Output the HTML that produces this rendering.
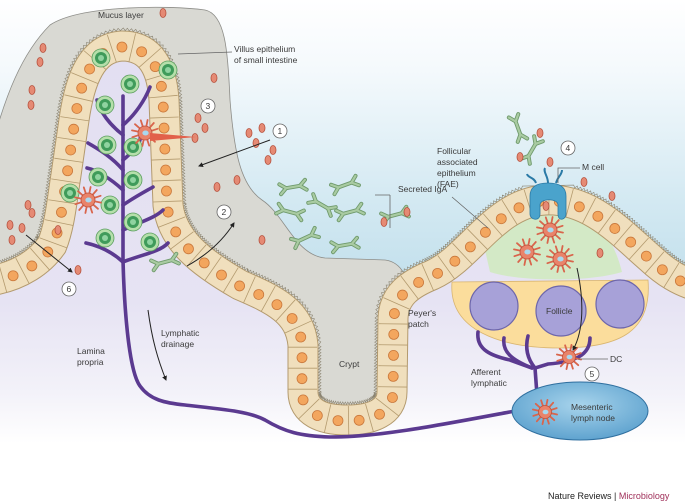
<!DOCTYPE html>
<html><head><meta charset="utf-8"><style>
html,body{margin:0;padding:0;background:#fff;width:685px;height:504px;overflow:hidden}
svg{display:block}
text{font-family:"Liberation Sans",sans-serif;font-size:8.5px;fill:#3a3a3a}
</style></head><body>
<svg id="s" width="685" height="504" viewBox="0 0 685 504" xmlns="http://www.w3.org/2000/svg">
<defs>
<linearGradient id="blue" x1="0" y1="0" x2="0" y2="1">
<stop offset="0" stop-color="#ffffff"/><stop offset="0.14" stop-color="#f4f9fc"/><stop offset="0.4" stop-color="#d3e9f2"/><stop offset="0.62" stop-color="#bcdcea"/><stop offset="1" stop-color="#bcdcea"/></linearGradient>
<linearGradient id="lam" x1="0" y1="0" x2="0" y2="504" gradientUnits="userSpaceOnUse">
<stop offset="0" stop-color="#e2def1"/><stop offset="0.6" stop-color="#e6e3f3"/><stop offset="0.78" stop-color="#f3f2f9"/><stop offset="0.88" stop-color="#ffffff"/></linearGradient>
<radialGradient id="node" cx="0.5" cy="0.4" r="0.6"><stop offset="0" stop-color="#a8d4ec"/><stop offset="1" stop-color="#5fa3cf"/></radialGradient>
<marker id="ah" viewBox="0 0 10 10" refX="8" refY="5" markerWidth="5" markerHeight="5" orient="auto"><path d="M0,0 L10,5 L0,10 z" fill="#222"/></marker>
<g id="iga" fill="none" stroke-linecap="round">
<g stroke="#6f9a6c" stroke-width="4"><path d="M-7,0 H7 M7,0 L13,-5 M7,0 L13,5 M-7,0 L-13,-5 M-7,0 L-13,5"/></g>
<g stroke="#a9cba2" stroke-width="2.2"><path d="M-7,0 H7 M7,0 L13,-5 M7,0 L13,5 M-7,0 L-13,-5 M-7,0 L-13,5"/></g>
</g>
</defs>
<rect width="685" height="504" fill="url(#blue)"/>
<!-- grey mucus -->
<path d="M-5,135 C5,100 20,55 50,25 C80,5 170,5 205,10 C225,14 228,50 230,100 C234,150 240,185 262,200 C285,215 295,255 325,258 L385,260 C402,262 410,280 410,300 L410,460 L-5,460 Z" fill="#d9d9d3" stroke="#8d8d88" stroke-width="0.8"/>
<!-- lamina -->
<path id="lamp" fill="url(#lam)" d=""/>
<!-- Peyer's patch -->
<path d="M452,282 C448,330 500,348 560,348 C622,348 652,330 648,280 Z" fill="#fbdd9c" stroke="#d9b570" stroke-width="0.8"/>
<path d="M485,250 C500,215 540,205 560,208 C590,210 612,232 622,272 C590,282 520,282 490,272 Z" fill="#d3e9c6"/>
<circle cx="494" cy="306" r="24" fill="#a7a1d8" stroke="#6d66ab" stroke-width="1.2"/>
<circle cx="561" cy="311" r="25" fill="#a7a1d8" stroke="#6d66ab" stroke-width="1.2"/>
<circle cx="620" cy="304" r="24" fill="#a7a1d8" stroke="#6d66ab" stroke-width="1.2"/>
<text x="546" y="314">Follicle</text>
<g id="epi"></g>
<!-- M cell -->
<path d="M530,196 C530,186 538,183 548,183 C558,183 566,186 566,196 L566,214 C566,220 558,222 558,214 L558,205 C558,198 540,198 540,205 L540,214 C540,222 530,220 530,214 Z" fill="#4aa3cc" stroke="#2a7aa6" stroke-width="0.8"/>
<path d="M536,183 C534,177 528,178 527,174 M548,183 C548,176 543,172 545,168 M556,183 C558,176 562,175 562,170" stroke="#2a7aa6" stroke-width="2" fill="none"/>
<!-- lymphatics -->
<g fill="none" stroke="#5b3a90" stroke-width="3.6" stroke-linecap="round">
<path d="M123,96 L123,260 C124,300 128,370 140,386 C150,400 165,403 185,405 C230,410 250,412 265,420 C285,432 300,436 330,437 C380,437 440,425 515,411"/>
<path d="M123,135 C110,125 100,112 97,100"/>
<path d="M123,125 C135,115 145,100 150,87"/>
<path d="M123,170 C110,155 96,148 88,143"/>
<path d="M123,190 C110,178 96,170 87,168"/>
<path d="M123,205 C138,195 148,190 153,187"/>
<path d="M123,230 C140,222 155,218 163,210"/>
<path d="M123,262 C110,250 95,245 86,243"/>
<path d="M123,262 C140,255 160,252 168,243"/>
<path d="M123,160 C135,150 142,142 140,135"/>
<path d="M478,332 C476,350 492,356 510,360 L532,368"/>
<path d="M504,338 C502,352 512,360 532,368"/>
<path d="M528,336 C524,352 530,362 535,368"/>
<path d="M590,338 C590,355 575,362 548,364 L535,368 L537,395"/>
</g>
<!-- lymph node -->
<ellipse cx="580" cy="411" rx="68" ry="29" fill="url(#node)" stroke="#2f6f9f" stroke-width="1"/>
<g id="dyn"></g>
<!-- arrows -->
<g fill="none" stroke="#222" stroke-width="1" marker-end="url(#ah)">
<path d="M270,140 L199,166"/>
<path d="M187,266 C205,256 222,242 234,223"/>
<path d="M148,310 C152,340 158,360 166,380"/>
<path d="M26,235 L72,272"/>
<path d="M577,268 C584,300 584,330 573,350"/>
</g>
<path d="M150,133 L196,137 L150,141 Z" fill="#e2604a"/>
<!-- number circles -->
<g fill="#fff" stroke="#666" stroke-width="0.8">
<circle cx="280" cy="131" r="7"/><circle cx="224" cy="212" r="7"/><circle cx="208" cy="106" r="7"/>
<circle cx="568" cy="148" r="7"/><circle cx="592" cy="374" r="7"/><circle cx="69" cy="289" r="7"/></g>
<g font-size="8"><text x="277.5" y="134">1</text><text x="221.5" y="215">2</text><text x="205.5" y="109">3</text><text x="565.5" y="151">4</text><text x="589.5" y="377">5</text><text x="66.5" y="292">6</text></g>
<!-- leader lines -->
<g stroke="#666" stroke-width="0.8" fill="none">
<path d="M178,54 L232,52"/>
<path d="M390,195 L390,228 M390,195 L375,195"/>
<path d="M452,197 L488,228"/>
<path d="M558,183 L558,168 L580,168"/>
<path d="M578,359 L608,359"/>
</g>
<!-- labels -->
<text x="98" y="18">Mucus layer</text>
<text x="234" y="52">Villus epithelium</text><text x="234" y="63">of small intestine</text>
<text x="398" y="192">Secreted IgA</text>
<text x="437" y="154">Follicular</text><text x="437" y="165">associated</text><text x="437" y="176">epithelium</text><text x="437" y="187">(FAE)</text>
<text x="582" y="170">M cell</text>
<text x="408" y="316">Peyer's</text><text x="408" y="327">patch</text>
<text x="339" y="367">Crypt</text>
<text x="77" y="354">Lamina</text><text x="77" y="365">propria</text>
<text x="161" y="336">Lymphatic</text><text x="161" y="347">drainage</text>
<text x="471" y="375">Afferent</text><text x="471" y="386">lymphatic</text>
<text x="610" y="362">DC</text>
<text x="571" y="410">Mesenteric</text><text x="571" y="421">lymph node</text>
<text x="548" y="499" style="font-size:9px;fill:#222">Nature Reviews | <tspan fill="#a0305a">Microbiology</tspan></text>
<path id="P" fill="none" stroke="none" d="M-5,280 C20,275 40,262 52,245 C60,225 62,200 66,175 L74,120 C80,78 92,48 122,46 C152,46 162,70 164,100 L168,205 C172,240 200,262 240,285 C275,300 300,312 303,345 L303,392 C303,412 322,420 347,420 C372,420 392,412 392,392 L393,318 C394,295 410,284 432,275 C470,258 495,203 545,200 C590,198 620,232 650,258 C665,272 680,282 700,287"/>
</svg>
<script>
(function(){
var NS="http://www.w3.org/2000/svg";
function el(t,a,p){var e=document.createElementNS(NS,t);for(var k in a)e.setAttribute(k,a[k]);(p||dyn).appendChild(e);return e;}
var dyn=document.getElementById("dyn"),epi=document.getElementById("epi");
var P=document.getElementById("P"),d=P.getAttribute("d");
document.getElementById("lamp").setAttribute("d",d+" L700,504 L-5,504 Z");
el("path",{d:d,fill:"none",stroke:"#b39a6e","stroke-width":31},epi);
el("path",{d:d,fill:"none",stroke:"#f0dfbd","stroke-width":29},epi);
var L=P.getTotalLength();
function pt(s){var a=P.getPointAtLength(Math.max(0,Math.min(L,s))),b=P.getPointAtLength(Math.min(L,s+0.5));var dx=b.x-a.x,dy=b.y-a.y,m=Math.hypot(dx,dy)||1;return{x:a.x,y:a.y,nx:dy/m,ny:-dx/m};}
// microvilli
var mv="";for(var s=0;s<L;s+=1.5){var p=pt(s);var o=15.5+((Math.round(s/1.5)%2)?2.5:0);if(p.x>528&&p.x<568&&p.y<215)continue;mv+=(mv?"L":"M")+(p.x+p.nx*o).toFixed(1)+","+(p.y+p.ny*o).toFixed(1);}
el("path",{d:mv,fill:"none",stroke:"#8a8370","stroke-width":0.6},epi);
// cells
for(var s=8;s<L;s+=21){var p=pt(s);
el("line",{x1:p.x-p.nx*15,y1:p.y-p.ny*15,x2:p.x+p.nx*14,y2:p.y+p.ny*14,stroke:"#b39a6e","stroke-width":0.8},epi);
var q=pt(s+10.5);el("circle",{cx:q.x-q.nx*1,cy:q.y-q.ny*1,r:5,fill:"#f3a65e",stroke:"#c9783c","stroke-width":0.8},epi);}
// green cells
[[105,105],[107,145],[133,147],[98,177],[133,180],[110,205],[133,222],[105,238],[150,242],[130,84],[101,58],[168,70],[70,193]].forEach(function(c){
el("circle",{cx:c[0],cy:c[1],r:9,fill:"#b5dfaa",stroke:"#5a9e5e","stroke-width":0.8});
el("circle",{cx:c[0],cy:c[1],r:6,fill:"#3f9b5a"});el("circle",{cx:c[0],cy:c[1],r:3,fill:"#8fd3a0"});});
// DCs
function dc(x,y,r){var g="";for(var i=0;i<12;i++){var a=i*Math.PI/6+0.2;g+="M"+(x+Math.cos(a)*r*0.8).toFixed(1)+","+(y+Math.sin(a)*r*0.8).toFixed(1)+"L"+(x+Math.cos(a)*r*1.9).toFixed(1)+","+(y+Math.sin(a)*r*1.9).toFixed(1);}
el("path",{d:g,stroke:"#d9654c","stroke-width":1.8,"stroke-linecap":"round",fill:"none"});
el("circle",{cx:x,cy:y,r:r,fill:"#e9836a",stroke:"#c0503a","stroke-width":0.8});
el("ellipse",{cx:x+0.5,cy:y,rx:r*0.45,ry:r*0.35,fill:"#a9d8ef"});}
dc(145,133,7);dc(88,200,7);dc(527,252,7);dc(550,230,7);dc(560,259,7);dc(569,357,6.5);dc(545,412,6.5);
// IgA
[[293,187,-10],[345,185,-20],[290,212,15],[350,212,-15],[305,238,-25],[345,245,-10],[395,215,-15],[165,262,-15],[518,128,70],[532,150,-60],[322,205,30]].forEach(function(a){
el("use",{href:"#iga",transform:"translate("+a[0]+","+a[1]+") rotate("+a[2]+")"});});
// bacteria
[[163,13],[43,48],[40,62],[32,90],[31,105],[214,78],[198,118],[205,128],[195,138],[249,133],[262,128],[256,143],[273,150],[268,160],[217,187],[237,180],[262,240],[32,213],[10,225],[22,228],[12,240],[78,270],[540,133],[550,162],[584,182],[546,206],[612,196],[600,253],[384,222],[407,212],[520,157],[58,230],[28,205]].forEach(function(b){
el("ellipse",{cx:b[0],cy:b[1],rx:3,ry:4.5,fill:"#e58a74",stroke:"#b6503c","stroke-width":0.8});});
})();
</script>
</body></html>
